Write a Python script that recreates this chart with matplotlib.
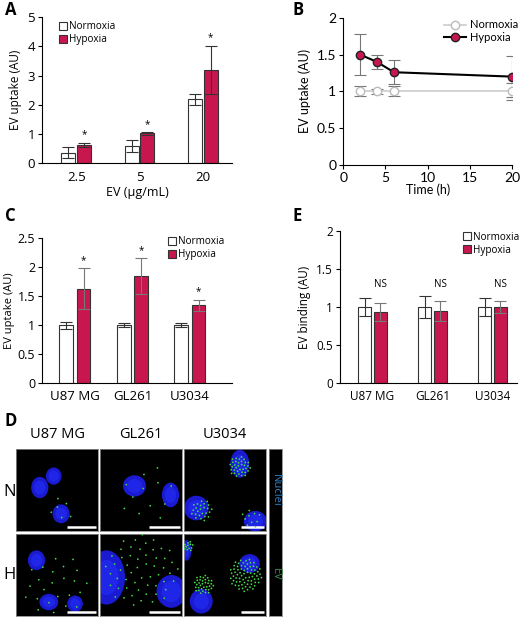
import numpy as np
import matplotlib
matplotlib.use('Agg')
import matplotlib.pyplot as plt
from matplotlib.patches import Ellipse
from matplotlib.lines import Line2D

plt.rcParams['font.family'] = ['Open Sans', 'DejaVu Sans']
plt.rcParams['font.size'] = 8

ROUGE = '#C8174F'

# A - dose
doses = ['2.5', '5', '20']
a_norm = [0.35, 0.57, 2.18]
a_norm_err = [0.19, 0.20, 0.18]
a_hyp = [0.62, 1.01, 3.20]
a_hyp_err = [0.07, 0.05, 0.83]

# B - cinétique
temps = [2, 4, 6, 20]
b_norm = [1.0, 1.0, 1.0, 1.0]
b_norm_err = [0.07, 0.03, 0.07, 0.12]
b_hyp = [1.50, 1.40, 1.26, 1.20]
b_hyp_err = [0.28, 0.10, 0.16, 0.28]

# C - uptake par lignée
lignees = ['U87 MG', 'GL261', 'U3034']
c_norm = [1.0, 1.0, 1.0]
c_norm_err = [0.06, 0.04, 0.03]
c_hyp = [1.63, 1.84, 1.34]
c_hyp_err = [0.35, 0.31, 0.10]

# E - binding
e_norm = [1.0, 1.0, 1.0]
e_norm_err = [0.12, 0.15, 0.12]
e_hyp = [0.93, 0.95, 1.0]
e_hyp_err = [0.12, 0.13, 0.08]

fig = plt.figure(figsize=(5.2, 6.17), dpi=100)


def habillage(ax, taille=9.5):
    ax.spines['top'].set_visible(False)
    ax.spines['right'].set_visible(False)
    ax.tick_params(direction='out', length=3, width=0.8, labelsize=taille, pad=2)


def legende_barres(ax, loc, anchor):
    poignees = [plt.Rectangle((0, 0), 1, 1, facecolor='white', edgecolor='#333333', linewidth=0.8),
                plt.Rectangle((0, 0), 1, 1, facecolor=ROUGE, edgecolor='#333333', linewidth=0.8)]
    ax.legend(poignees, ['Normoxia', 'Hypoxia'], loc=loc, bbox_to_anchor=anchor, frameon=False,
              fontsize=7.2, handlelength=0.8, handleheight=0.8, handletextpad=0.2,
              labelspacing=0.2, borderaxespad=0)


def barres(ax, norm, norm_err, hyp, hyp_err, largeur, ecart, err_hyp_col):
    x = np.arange(len(norm))
    ax.bar(x - ecart, norm, largeur, color='white', edgecolor='#333333', linewidth=0.8, zorder=2)
    ax.bar(x + ecart, hyp, largeur, color=ROUGE, edgecolor='#333333', linewidth=0.8, zorder=2)
    ax.errorbar(x - ecart, norm, yerr=norm_err, fmt='none', ecolor='#333333', elinewidth=0.8,
                capsize=4, capthick=0.8, zorder=3)
    ax.errorbar(x + ecart, hyp, yerr=hyp_err, fmt='none', ecolor=err_hyp_col, elinewidth=0.8,
                capsize=4, capthick=0.8, zorder=3)
    return x


# ---------- A ----------
axA = fig.add_axes([0.081, 0.736, 0.365, 0.236])
xA = barres(axA, a_norm, a_norm_err, a_hyp, a_hyp_err, 0.22, 0.125, '#333333')
for xi, h, e in zip(xA, a_hyp, a_hyp_err):
    axA.text(xi + 0.125, h + e + 0.08, '*', ha='center', va='bottom', fontsize=7)
axA.set_xlim(-0.54, 2.46)
axA.set_ylim(0, 5)
axA.set_yticks(range(6))
axA.set_xticks(xA)
axA.set_xticklabels(doses)
axA.set_xlabel('EV (µg/mL)', labelpad=1, fontsize=9)
axA.set_ylabel('EV uptake (AU)', labelpad=4, fontsize=8.5)
habillage(axA)
axA.tick_params(axis='x', length=0, pad=6)
legende_barres(axA, 'upper left', (0.07, 1.0))

# ---------- B ----------
lato = ['Lato', 'DejaVu Sans']
axB = fig.add_axes([0.66, 0.733, 0.325, 0.238])
axB.errorbar(temps, b_norm, yerr=b_norm_err, color='#cccccc', ecolor='#777777', elinewidth=0.8,
             capsize=4, capthick=0.8, marker='o', markersize=6, markerfacecolor='white',
             markeredgecolor='#bbbbbb', linewidth=1.2, zorder=2)
axB.errorbar(temps, b_hyp, yerr=b_hyp_err, color='black', ecolor='#777777', elinewidth=0.8,
             capsize=4, capthick=0.8, marker='o', markersize=6, markerfacecolor=ROUGE,
             markeredgecolor='#222222', linewidth=1.5, zorder=3)
axB.set_xlim(0, 20)
axB.set_ylim(0, 2)
axB.set_xticks([0, 5, 10, 15, 20])
axB.set_yticks([0, 0.5, 1, 1.5, 2])
axB.set_yticklabels(['0', '0.5', '1', '1.5', '2'])
axB.set_xlabel('Time (h)', labelpad=0, family=lato, fontsize=9)
axB.set_ylabel('EV uptake (AU)', labelpad=4, family=lato, fontsize=9)
habillage(axB, 10)
for lab in axB.get_xticklabels() + axB.get_yticklabels():
    lab.set_family(lato)
poignees_B = [Line2D([], [], color='#cccccc', marker='o', markerfacecolor='white',
                     markeredgecolor='#bbbbbb', markersize=6, linewidth=1.2),
              Line2D([], [], color='black', marker='o', markerfacecolor=ROUGE,
                     markeredgecolor='#222222', markersize=6, linewidth=1.5)]
axB.legend(poignees_B, ['Normoxia', 'Hypoxia'], loc='upper right', bbox_to_anchor=(1.06, 1.02),
           frameon=False, handlelength=2.0, handletextpad=0.3, labelspacing=0.15,
           borderaxespad=0, prop={'family': lato, 'size': 8})

# ---------- C ----------
axC = fig.add_axes([0.081, 0.379, 0.365, 0.235])
xC = barres(axC, c_norm, c_norm_err, c_hyp, c_hyp_err, 0.24, 0.15, '#777777')
for xi, h, e in zip(xC, c_hyp, c_hyp_err):
    axC.text(xi + 0.15, h + e + 0.04, '*', ha='center', va='bottom', fontsize=7)
axC.set_xlim(-0.57, 2.73)
axC.set_ylim(0, 2.5)
axC.set_yticks([0, 0.5, 1, 1.5, 2, 2.5])
axC.set_yticklabels(['0', '0.5', '1', '1.5', '2', '2.5'])
axC.set_xticks(xC)
axC.set_xticklabels(lignees)
habillage(axC, 9)
axC.tick_params(axis='x', labelsize=9.5)
axC.set_ylabel('EV uptake (AU)', labelpad=2, fontsize=8)
axC.tick_params(axis='x', length=0, pad=5)
legende_barres(axC, 'upper left', (0.64, 1.04))

# ---------- E ----------
axE = fig.add_axes([0.654, 0.379, 0.34, 0.247])
xE = barres(axE, e_norm, e_norm_err, e_hyp, e_hyp_err, 0.22, 0.13, '#777777')
for xi in xE:
    axE.text(xi + 0.13, 1.22, 'NS', ha='center', va='bottom', fontsize=7)
axE.set_xlim(-0.54, 2.41)
axE.set_ylim(0, 2)
axE.set_yticks([0, 0.5, 1, 1.5, 2])
axE.set_yticklabels(['0', '0.5', '1', '1.5', '2'])
axE.set_xticks(xE)
axE.set_xticklabels(lignees)
axE.set_ylabel('EV binding (AU)', labelpad=4, fontsize=8.5)
habillage(axE, 8.5)
axE.tick_params(axis='x', length=0, pad=5)
legende_barres(axE, 'upper left', (0.67, 1.02))

# ---------- D : images de microscopie (schématiques) ----------
noyaux = {
    (0, 0): [(0.29, 0.53, 0.21, 0.26), (0.46, 0.67, 0.19, 0.21), (0.55, 0.21, 0.21, 0.23)],
    (0, 1): [(0.42, 0.55, 0.28, 0.26), (0.86, 0.44, 0.21, 0.30)],
    (0, 2): [(0.68, 0.82, 0.23, 0.34), (0.15, 0.28, 0.30, 0.30), (0.87, 0.12, 0.28, 0.25)],
    (1, 0): [(0.25, 0.68, 0.21, 0.24), (0.40, 0.17, 0.23, 0.20), (0.72, 0.15, 0.19, 0.20)],
    (1, 1): [(0.08, 0.47, 0.45, 0.66), (0.87, 0.30, 0.36, 0.40)],
    (1, 2): [(0.03, 0.80, 0.12, 0.25), (0.21, 0.18, 0.28, 0.30), (0.80, 0.64, 0.25, 0.23)],
}
# amas de vésicules (centre x, centre y, rayon, nombre de points)
amas = {
    (0, 0): [(0.55, 0.25, 0.15, 6)],
    (0, 1): [(0.60, 0.45, 0.35, 12)],
    (0, 2): [(0.68, 0.78, 0.13, 35), (0.22, 0.25, 0.13, 25), (0.82, 0.16, 0.12, 10)],
    (1, 0): [(0.50, 0.35, 0.40, 25)],
    (1, 1): [(0.50, 0.55, 0.45, 55)],
    (1, 2): [(0.75, 0.50, 0.20, 70), (0.24, 0.38, 0.12, 35), (0.06, 0.85, 0.06, 12)],
}
barre_echelle = [(0.62, 0.98), (0.60, 0.97), (0.69, 0.98)]

x_cols = [16, 100, 184]
y_rows = [449, 534]
cote = 82
for (r, c), liste in noyaux.items():
    ax = fig.add_axes([x_cols[c] / 520, 1 - (y_rows[r] + cote) / 617, cote / 520, cote / 617])
    ax.set_facecolor('black')
    ax.set_xlim(0, 1)
    ax.set_ylim(0, 1)
    ax.set_xticks([])
    ax.set_yticks([])
    for sp in ax.spines.values():
        sp.set_color('#888888')
        sp.set_linewidth(0.6)
    for (cx, cy, w, h) in liste:
        ax.add_patch(Ellipse((cx, cy), w, h, facecolor='#1a1ad0', edgecolor='none'))
        ax.add_patch(Ellipse((cx, cy), w * 0.65, h * 0.65, facecolor='#2633ff', edgecolor='none', alpha=0.5))
    for (cx, cy, rad, n) in amas[(r, c)]:
        k = np.arange(1, n + 1)
        ang = k * 2.39996
        rr = rad * np.sqrt(k / n)
        ax.scatter(cx + rr * np.cos(ang), cy + rr * np.sin(ang), s=1.6, color='#44dd44',
                   edgecolors='none', zorder=3)
    x0, x1 = barre_echelle[c]
    ax.plot([x0, x1], [0.05, 0.05], color='white', linewidth=1.8, solid_capstyle='butt')
    if r == 0:
        ax.set_title(lignees[c], fontsize=10.5, pad=8)

# bandeau des canaux
axS = fig.add_axes([269 / 520, 1 - 616 / 617, 13 / 520, 167 / 617])
axS.set_facecolor('black')
axS.set_xticks([])
axS.set_yticks([])
for sp in axS.spines.values():
    sp.set_color('#888888')
    sp.set_linewidth(0.6)
axS.text(0.5, 0.75, 'Nuclei', rotation=270, ha='center', va='center', color='#2f7fc0',
         fontsize=8, transform=axS.transAxes)
axS.text(0.5, 0.25, 'EV', rotation=270, ha='center', va='center', color='#3a8a4a',
         fontsize=8, transform=axS.transAxes)

fig.text(3 / 520, 1 - 492 / 617, 'N', fontsize=12, ha='left', va='center')
fig.text(3 / 520, 1 - 575 / 617, 'H', fontsize=12, ha='left', va='center')

# lettres des panneaux
for lettre, (px, py) in {'A': (5, 10), 'B': (292, 10), 'C': (5, 216), 'E': (292, 216),
                         'D': (5, 421)}.items():
    fig.text(px / 520, 1 - py / 617, lettre, fontsize=12, fontweight='bold', ha='left', va='center')

fig.savefig('out.png', dpi=100)
